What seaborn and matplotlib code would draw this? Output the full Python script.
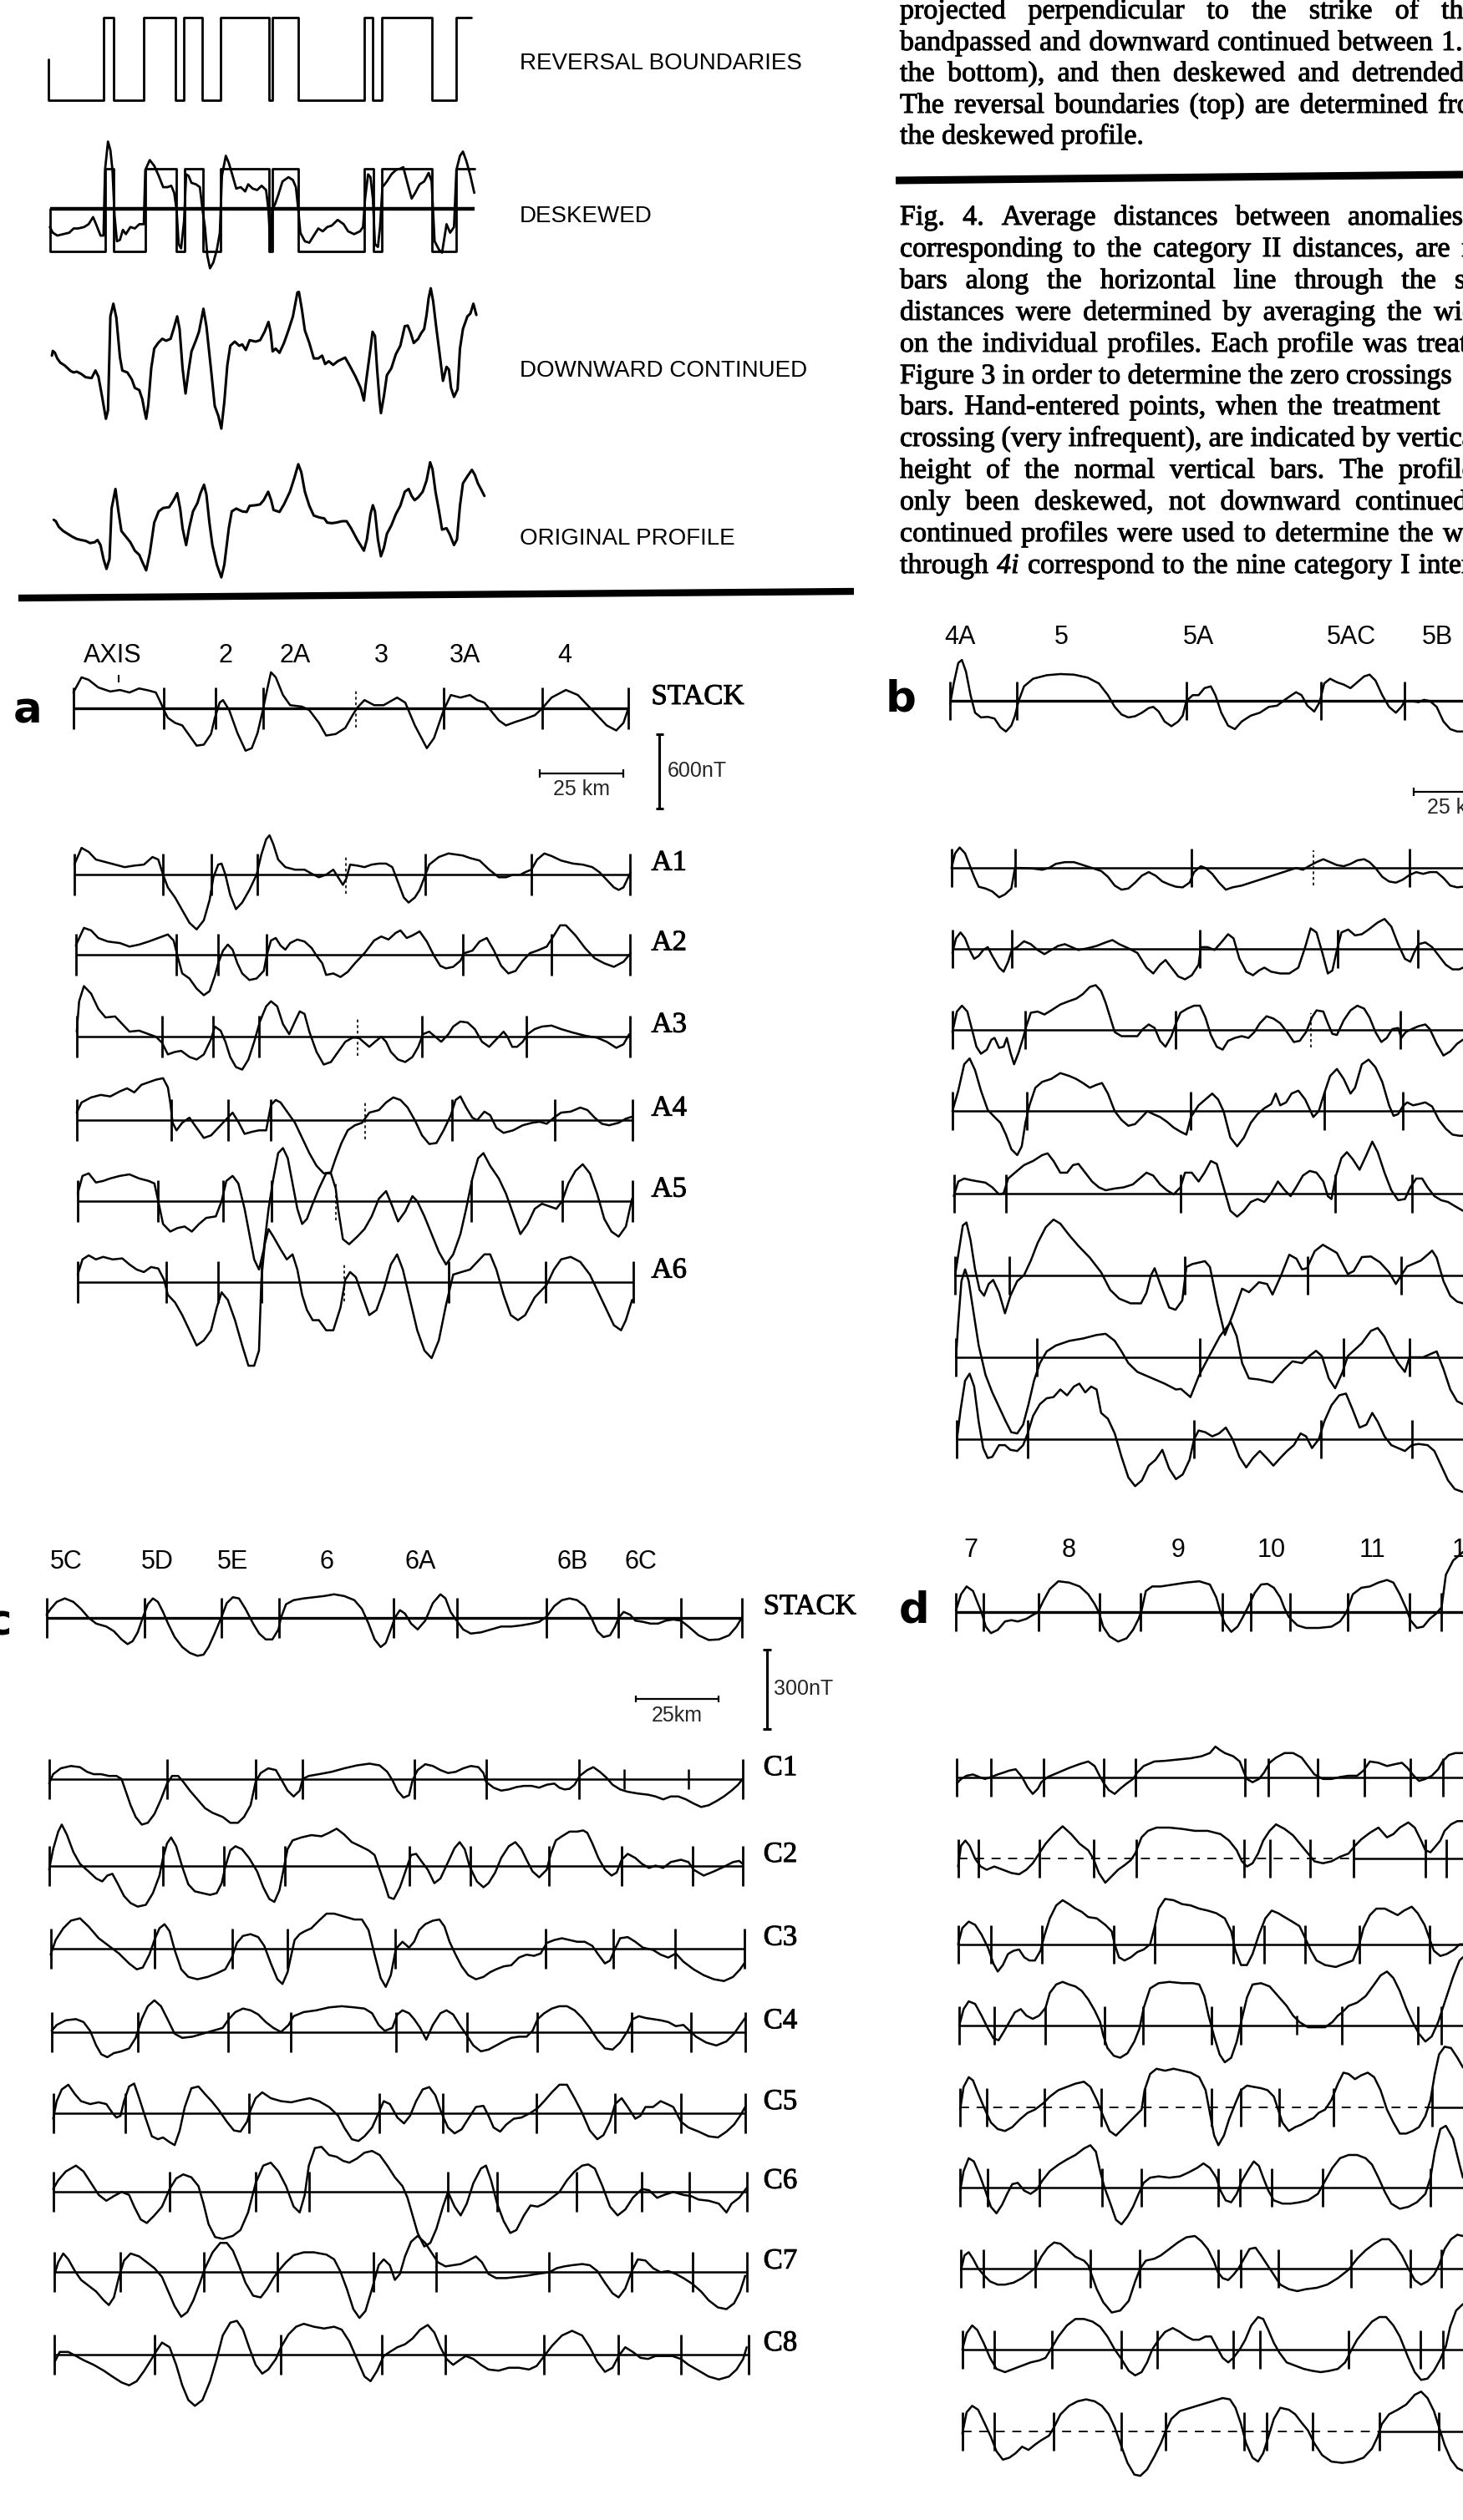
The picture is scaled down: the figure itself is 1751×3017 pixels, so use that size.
import numpy as np
import pandas as pd
import matplotlib
matplotlib.use("Agg")
import matplotlib.pyplot as plt
import seaborn as sns
from matplotlib import font_manager
from matplotlib.lines import Line2D
import matplotlib.patheffects as pe

W, H, DPI = 1751, 3017, 100
sns.set_style("white")
_names = {f.name for f in font_manager.fontManager.ttflist}
SERIF = "Liberation Serif" if "Liberation Serif" in _names else "DejaVu Serif"
SANS = "Liberation Sans" if "Liberation Sans" in _names else "DejaVu Sans"
NARROW = "Liberation Sans Narrow" if "Liberation Sans Narrow" in _names else None
plt.rcParams["font.family"] = [SANS, "DejaVu Sans"]

# ---------------- DATA: top block (distance units, amplitude units) ----------------
REV_EDGES = [5.0, 23.5, 26.8, 37.0, 47.7, 50.3, 56.5, 62.7, 79.0, 80.0, 88.7, 111.0, 113.8, 116.7, 133.7, 141.8, 146.8]
REV_POLARITY = [-1, 1, -1, 1, -1, 1, -1, 1, -1, 1, -1, 1, -1, 1, -1, 1]
DESK_EDGES = [5.5, 24.0, 27.0, 37.5, 48.0, 50.8, 56.8, 62.8, 79.0, 80.0, 88.8, 111.0, 114.0, 116.8, 133.7, 141.8, 147.8]
DESKEWED = [(5.5,-63),(6.5,-83),(8.0,-93),(10.0,-88),(12.0,-83),(13.5,-68),(15.0,-68),(17.0,-63),(18.5,-53),(20.0,-28),(21.0,-53),(22.5,-93),(23.5,-93),(24.0,137),(25.0,237),(25.8,207),(26.5,137),(27.2,-23),(28.0,-113),(29.0,-108),(30.0,-73),(31.0,-88),(32.5,-63),(34.0,-68),(35.5,-53),(37.0,-53),(37.5,137),(39.0,172),(40.5,152),(42.0,117),(43.5,77),(45.0,77),(46.2,82),(47.2,57),(48.0,-3),(48.7,-123),(49.5,-138),(50.5,-43),(51.2,122),(52.0,117),(53.0,92),(54.5,87),(55.8,77),(56.7,-3),(57.5,-63),(58.3,-163),(59.2,-208),(60.3,-188),(61.5,-143),(62.5,-83),(63.2,117),(64.5,187),(65.5,162),(66.5,127),(68.0,72),(69.5,77),(71.0,62),(72.0,87),(73.5,72),(75.0,67),(76.5,82),(78.0,67),(78.8,-3),(79.5,-143),(80.0,-3),(81.0,17),(82.0,47),(83.5,97),(85.5,112),(87.0,102),(88.0,77),(88.8,-3),(89.5,-83),(91.0,-113),(92.5,-118),(94.0,-93),(95.5,-68),(97.0,-78),(98.5,-63),(100.0,-58),(102.0,-38),(104.0,-53),(105.5,-78),(107.5,-88),(109.5,-78),(110.5,-63),(111.2,37),(112.2,122),(113.0,112),(113.8,37),(114.5,-123),(115.5,-133),(116.2,-63),(117.0,77),(118.5,97),(120.0,122),(121.5,137),(123.0,142),(124.0,147),(125.5,87),(126.8,37),(128.0,57),(129.5,87),(131.0,97),(132.5,127),(133.5,97),(134.5,-113),(136.0,-143),(137.0,-153),(138.5,-53),(139.7,-83),(141.0,-63),(141.8,137),(143.0,187),(144.0,202),(145.2,167),(146.5,117),(147.8,57)]
DOWNWARD = [(6.2,15),(6.5,32),(7.2,25),(8.0,5),(9.0,-10),(10.5,-20),(11.5,-30),(12.5,-40),(13.5,-45),(14.5,-42),(16.0,-50),(17.5,-62),(19.5,-65),(20.8,-38),(21.8,-60),(23.0,-130),(24.3,-210),(25.0,-180),(25.8,155),(26.8,200),(27.8,150),(29.0,10),(29.8,-38),(31.5,-45),(33.0,-70),(34.0,-100),(35.5,-108),(36.5,-140),(37.2,-180),(37.8,-210),(38.5,-160),(39.5,-30),(40.5,40),(41.8,60),(43.2,75),(44.5,68),(46.0,75),(47.0,110),(48.2,155),(49.0,110),(50.0,-30),(51.0,-120),(52.0,-40),(53.0,30),(54.5,70),(55.5,100),(57.0,182),(58.0,120),(59.5,-30),(60.8,-165),(62.0,-200),(63.0,-245),(64.0,-150),(65.0,-20),(66.0,50),(67.5,65),(69.0,50),(70.0,55),(71.2,35),(72.5,70),(74.5,65),(76.0,70),(77.5,100),(78.8,135),(79.5,100),(80.2,30),(81.2,40),(82.5,25),(84.0,60),(85.5,105),(87.0,155),(88.5,240),(89.0,242),(90.0,180),(91.0,105),(92.5,60),(94.0,5),(95.5,5),(96.8,15),(97.8,-15),(99.0,-5),(100.5,-18),(102.0,-5),(104.5,8),(106.0,-20),(108.0,-60),(109.7,-100),(110.8,-145),(111.5,-80),(113.0,40),(113.7,100),(114.5,85),(115.2,-30),(116.0,-140),(116.5,-190),(117.5,-130),(118.5,-55),(120.0,-30),(121.5,20),(123.0,50),(124.5,120),(125.5,122),(126.5,95),(127.5,60),(129.0,75),(130.0,95),(131.0,110),(131.8,160),(132.5,220),(133.2,255),(134.0,210),(135.0,120),(136.2,20),(137.3,-75),(138.5,-25),(139.3,-35),(140.0,-100),(141.0,-132),(142.2,-105),(143.0,40),(144.0,110),(145.5,155),(146.5,165),(147.5,200),(148.5,160)]
ORIGINAL = [(6.8,10),(7.5,5),(8.5,-15),(10.0,-30),(11.5,-40),(13.0,-50),(14.5,-58),(16.0,-62),(17.5,-65),(19.0,-73),(20.5,-70),(21.5,-62),(22.5,-80),(23.5,-130),(24.5,-165),(25.5,-130),(26.2,50),(27.5,120),(28.5,40),(29.5,-30),(31.0,-50),(32.5,-70),(34.0,-100),(35.5,-115),(36.5,-140),(37.8,-170),(39.0,-110),(40.5,0),(42.0,40),(43.5,52),(45.5,55),(47.0,80),(48.2,105),(49.2,50),(50.0,-20),(51.2,-80),(52.2,-20),(53.5,40),(55.0,70),(56.0,105),(57.2,135),(58.0,100),(59.0,0),(60.0,-80),(61.5,-150),(63.0,-195),(64.0,-150),(65.5,-20),(66.5,40),(68.0,50),(70.0,40),(71.5,38),(72.5,60),(74.5,62),(76.0,65),(77.2,80),(78.7,110),(79.7,80),(80.5,45),(82.5,38),(84.0,65),(86.0,110),(87.5,160),(88.8,208),(89.8,180),(91.0,110),(92.5,60),(94.0,25),(96.0,18),(97.5,15),(98.5,0),(100.0,-2),(101.5,0),(103.5,5),(105.0,5),(106.5,-20),(108.5,-60),(110.8,-100),(111.8,-60),(113.0,30),(113.8,62),(114.5,40),(115.5,-60),(116.5,-120),(117.5,-90),(118.5,-40),(120.0,-10),(121.5,30),(123.0,60),(124.5,110),(125.8,120),(126.8,95),(127.8,80),(129.0,90),(130.5,110),(131.8,150),(133.0,215),(133.8,190),(134.8,110),(136.0,40),(137.0,-25),(138.5,-20),(139.5,-40),(141.0,-80),(142.0,-60),(143.0,60),(144.0,140),(145.5,165),(147.0,188),(148.0,170),(149.0,140),(150.0,120),(151.2,95)]

# ---------------- DATA: panel a (600 nT scale) ----------------
A_ANOMALIES = ["AXIS", "2", "2A", "3", "3A", "4"]
A_ANOMALY_X = [23.5, 47.0, 61.5, 79.5, 97.0, 117.8]
A_ROWS = ["STACK", "A1", "A2", "A3", "A4", "A5", "A6"]
A_STACK = [(15.3,128),(17.0,248),(18.5,228),(20.5,168),(23.0,136),(25.0,148),(27.0,128),(29.0,160),(31.0,144),(32.5,128),(33.5,48),(34.2,-12),(35.0,-72),(36.5,-112),(38.0,-132),(39.5,-212),(41.0,-292),(42.5,-284),(44.0,-200),(44.8,-72),(45.8,48),(46.5,68),(47.8,-12),(49.5,-192),(51.2,-332),(52.5,-312),(53.7,-192),(54.8,-12),(55.8,168),(56.5,288),(57.5,248),(59.0,108),(60.5,28),(63.0,16),(64.5,-12),(66.5,-112),(68.0,-212),(70.0,-200),(72.0,-152),(73.5,-52),(74.5,8),(76.0,68),(78.0,28),(80.0,28),(82.8,88),(84.5,48),(86.5,-132),(89.0,-312),(90.5,-232),(92.5,-12),(94.0,108),(96.0,88),(98.0,108),(99.5,68),(101.0,48),(104.0,-92),(105.5,-132),(107.5,-104),(109.5,-80),(111.5,-52),(113.0,0),(115.0,88),(118.0,148),(120.5,108),(123.5,-12),(126.5,-132),(128.5,-172),(130.0,-112),(131.0,0)]
A1 = [(15.5,80),(17.0,212),(18.5,180),(20.0,120),(22.0,100),(24.0,80),(26.0,60),(28.0,72),(30.0,80),(31.8,140),(33.0,120),(34.0,0),(35.0,-100),(36.5,-180),(38.0,-280),(39.5,-380),(41.0,-432),(42.5,-360),(43.7,-200),(44.5,-20),(45.5,80),(46.2,88),(47.0,0),(48.0,-160),(49.2,-272),(50.5,-220),(52.0,-120),(53.5,0),(54.5,160),(55.5,280),(56.2,312),(57.0,240),(58.0,120),(59.5,60),(61.5,40),(63.5,40),(65.0,8),(66.5,-20),(68.0,0),(69.5,40),(70.5,-20),(71.5,-80),(72.2,-32),(73.0,80),(74.5,72),(76.0,60),(77.5,80),(79.0,88),(80.5,88),(81.8,60),(83.0,-60),(84.2,-180),(85.2,-220),(86.5,-180),(87.5,-120),(88.5,-20),(89.5,80),(91.5,140),(93.5,168),(95.0,160),(96.5,152),(98.0,132),(100.0,112),(102.0,40),(104.0,-20),(105.5,-20),(107.0,0),(108.5,0),(109.5,20),(110.8,40),(112.0,120),(113.5,168),(115.0,148),(117.0,112),(119.5,88),(121.5,80),(123.5,60),(125.0,20),(126.5,-40),(128.0,-100),(129.0,-120),(130.0,-100),(131.0,-20),(131.5,20)]
A2 = [(15.8,72),(17.5,212),(19.0,192),(20.5,132),(22.5,104),(25.0,92),(27.0,64),(29.0,80),(31.0,104),(33.0,132),(35.0,160),(36.2,112),(37.0,-8),(38.0,-148),(39.5,-188),(41.0,-268),(42.5,-320),(43.7,-288),(44.8,-168),(45.5,-68),(46.5,32),(47.5,80),(48.5,40),(49.5,-68),(50.5,-148),(52.0,-200),(53.5,-188),(55.0,-128),(55.6,-8),(56.5,112),(57.5,132),(58.5,72),(59.5,40),(60.5,92),(62.0,120),(63.5,104),(65.0,52),(66.0,-8),(67.2,-68),(68.0,-160),(69.5,-148),(71.0,-176),(72.5,-136),(74.0,-68),(76.0,12),(78.0,112),(79.5,144),(81.0,120),(82.5,172),(83.5,192),(84.8,132),(86.0,152),(87.5,184),(89.0,104),(90.5,-8),(91.8,-88),(93.0,-108),(94.5,-96),(96.0,-48),(96.8,12),(98.5,32),(100.0,104),(101.5,132),(103.0,32),(104.5,-88),(106.0,-148),(107.5,-128),(109.0,-48),(110.5,12),(112.0,32),(114.0,64),(115.5,152),(116.8,232),(118.0,232),(120.0,152),(122.0,52),(124.0,-28),(126.0,-68),(128.0,-96),(130.0,-56),(131.5,12)]
A3 = [(16.0,40),(16.5,280),(17.5,400),(19.0,340),(20.5,220),(22.0,152),(24.0,160),(25.5,100),(27.0,40),(29.0,48),(31.0,20),(32.5,0),(33.8,-48),(35.0,-140),(36.5,-120),(37.8,-112),(39.5,-160),(41.0,-180),(42.5,-140),(44.0,-20),(44.8,80),(46.0,48),(47.0,-40),(48.0,-160),(49.2,-240),(50.5,-260),(51.8,-180),(53.0,-40),(54.2,120),(55.5,240),(56.5,280),(57.8,240),(59.0,100),(60.3,20),(61.5,120),(62.5,200),(63.5,180),(64.5,40),(66.0,-120),(67.5,-220),(69.0,-200),(70.5,-120),(72.0,-40),(73.5,-8),(74.8,-8),(76.0,-48),(77.0,-80),(78.2,-40),(79.5,0),(80.5,-40),(81.5,-120),(83.0,-180),(84.5,-200),(86.0,-160),(87.2,-80),(88.2,20),(89.5,40),(90.5,8),(92.0,-40),(93.5,20),(94.5,80),(96.0,120),(97.5,112),(99.0,60),(100.5,-40),(102.0,-80),(103.5,-20),(105.0,40),(105.8,0),(106.8,-80),(107.8,-80),(109.0,-40),(110.0,20),(111.5,60),(113.0,80),(115.0,88),(117.0,60),(119.5,32),(122.0,8),(124.5,-8),(126.5,-40),(128.5,-88),(130.0,-60),(131.2,20)]
A4 = [(16.0,60),(17.0,140),(19.0,180),(21.0,200),(23.0,188),(25.0,228),(26.5,252),(28.0,220),(29.5,280),(31.0,300),(32.5,320),(34.0,332),(35.0,260),(35.5,140),(36.0,-20),(36.8,-80),(38.0,-20),(39.5,20),(41.0,-60),(42.5,-140),(44.0,-120),(45.5,-60),(47.0,0),(48.5,60),(49.8,-20),(51.0,-108),(52.5,-92),(54.0,-80),(55.5,-80),(56.5,120),(57.5,160),(58.5,140),(60.0,60),(61.5,-20),(63.0,-140),(64.5,-260),(66.0,-360),(67.5,-420),(69.0,-412),(70.0,-300),(71.2,-180),(72.5,-80),(74.0,-40),(75.5,-20),(77.0,60),(79.0,80),(80.5,140),(82.0,180),(83.5,160),(85.0,100),(86.5,0),(88.0,-120),(89.5,-188),(91.0,-180),(92.5,-80),(94.0,40),(95.0,160),(96.0,188),(97.2,100),(98.5,20),(99.5,0),(101.0,68),(102.2,40),(103.5,-60),(105.0,-100),(107.0,-80),(109.0,-40),(111.0,-20),(112.5,-12),(114.0,-28),(115.5,20),(117.0,60),(119.0,68),(121.0,100),(122.5,80),(124.0,20),(125.5,-28),(127.0,-40),(129.0,-20),(130.5,12),(131.8,28)]
A5 = [(16.2,60),(17.2,200),(18.5,220),(20.0,148),(21.5,160),(23.0,180),(25.0,200),(27.0,212),(29.0,180),(31.0,160),(32.2,140),(33.0,0),(34.0,-180),(35.5,-240),(37.0,-212),(38.5,-200),(40.0,-240),(41.5,-180),(43.0,-132),(45.0,-120),(46.2,0),(47.2,160),(48.5,200),(49.7,140),(51.0,-60),(52.0,-260),(53.0,-460),(54.0,-540),(55.0,-380),(56.0,-60),(57.0,180),(58.0,380),(59.0,420),(60.0,340),(61.0,140),(62.0,-60),(63.0,-180),(64.0,-140),(65.2,-20),(66.5,100),(68.0,220),(69.0,220),(70.0,100),(70.5,-60),(71.5,-300),(72.8,-340),(74.5,-280),(76.0,-220),(77.5,-120),(79.0,20),(80.5,80),(81.8,-40),(83.0,-160),(84.5,-80),(86.0,40),(87.0,0),(88.5,-120),(90.0,-260),(91.5,-400),(93.0,-500),(94.5,-420),(96.0,-260),(97.2,-60),(98.5,180),(99.7,340),(100.8,380),(102.2,280),(104.0,180),(105.5,60),(107.0,-100),(108.5,-260),(110.0,-180),(111.5,-60),(113.0,-20),(114.5,-40),(116.0,-60),(117.2,0),(118.5,140),(120.0,240),(121.5,292),(123.0,220),(124.5,60),(126.0,-140),(127.5,-240),(129.0,-280),(130.5,-200),(131.8,20)]
A6 = [(16.2,60),(17.2,180),(18.5,212),(20.0,180),(21.5,200),(23.5,180),(25.5,188),(27.0,140),(28.5,100),(30.0,80),(31.5,120),(33.0,108),(34.2,20),(35.0,-100),(36.5,-160),(38.0,-260),(39.5,-380),(41.0,-500),(42.5,-460),(44.0,-380),(45.2,-200),(46.2,-80),(47.5,-140),(49.0,-300),(50.5,-500),(51.8,-660),(53.0,-660),(54.0,-540),(54.5,20),(55.2,300),(56.0,420),(57.0,360),(58.5,260),(59.8,180),(61.0,220),(62.0,100),(63.0,-100),(64.0,-220),(65.2,-300),(66.5,-300),(68.0,-380),(69.5,-380),(71.0,-200),(72.0,20),(73.0,80),(74.2,40),(75.5,-100),(77.0,-260),(78.5,-220),(80.0,-60),(81.5,140),(82.8,220),(84.0,100),(85.5,-140),(87.0,-380),(88.5,-540),(90.0,-600),(91.5,-460),(93.0,-180),(94.5,60),(96.2,80),(98.0,100),(99.5,160),(101.0,220),(102.2,220),(103.5,100),(105.0,-100),(106.5,-260),(108.0,-300),(109.5,-260),(111.5,-120),(113.0,-60),(114.0,-20),(115.5,100),(117.0,180),(119.0,200),(121.0,160),(123.0,60),(125.0,-100),(126.5,-220),(128.0,-340),(129.5,-380),(130.5,-300),(131.8,-140)]
A_BARS = [[15.3,34.2,44.9,54.8,92.5,113.0,131.0],[15.5,34.0,44.0,53.7,88.7,110.8,131.3],[15.8,36.7,45.5,55.5,96.5,115.0,131.3],[16.0,33.8,44.5,54.0,88.0,109.7,131.3],[16.0,35.8,47.5,56.5,94.2,115.7,131.8],[16.2,33.0,46.5,56.7,98.2,117.3,131.8],[16.2,34.7,45.5,54.5,93.5,113.8,132.0]]
A_HAND_BARS = [[74.3],[72.2],[],[74.5],[76.2],[70.0],[71.8]]
A_AXIS_TICK = 24.8

# ---------------- DATA: panel b ----------------
B_ANOMALIES = ["4A", "5", "5A", "5AC", "5B"]
B_ANOMALY_X = [45.8, 68.3, 98.5, 132.2, 151.2]
B_STACK = [(43.7,-20),(44.5,120),(45.5,260),(46.3,280),(47.2,200),(48.2,40),(49.2,-80),(50.5,-112),(52.0,-108),(53.5,-120),(54.8,-180),(56.0,-208),(57.2,-168),(58.0,-100),(58.8,0),(60.0,100),(62.0,152),(65.0,176),(68.0,184),(71.0,180),(74.0,160),(76.5,120),(78.5,40),(80.0,-40),(81.5,-92),(83.0,-112),(84.5,-104),(86.0,-80),(87.5,-48),(88.5,-40),(89.7,-72),(91.0,-140),(92.5,-172),(94.0,-140),(95.0,-100),(95.8,0),(97.2,40),(98.5,40),(99.8,88),(101.2,100),(102.2,40),(103.5,-80),(105.0,-168),(106.5,-192),(108.0,-140),(110.0,-100),(112.0,-80),(114.0,-40),(115.8,-32),(117.5,8),(119.0,40),(120.0,60),(121.2,40),(122.5,-32),(124.0,-72),(125.2,-8),(126.2,120),(127.5,152),(129.0,128),(130.5,112),(132.0,88),(133.5,128),(135.0,168),(136.2,180),(137.5,140),(139.0,40),(140.5,-40),(142.0,-80),(143.2,-40),(144.0,0),(145.5,0),(147.0,-8),(148.2,8),(149.5,0),(151.0,-40),(152.5,-140),(154.0,-192),(155.5,-208),(156.8,-208)]
B1 = [(44.0,0),(44.8,100),(45.8,140),(47.0,100),(48.0,20),(49.0,-60),(50.0,-128),(51.5,-140),(53.0,-160),(54.5,-200),(55.8,-180),(57.2,-140),(58.0,0),(59.5,0),(62.0,-4),(64.0,-12),(65.5,0),(67.0,28),(69.0,40),(71.0,40),(73.0,20),(75.0,0),(77.0,-20),(78.5,-60),(80.0,-120),(81.5,-148),(83.0,-140),(84.5,-100),(86.0,-52),(87.5,-28),(89.0,-52),(90.5,-92),(92.0,-112),(93.5,-128),(95.0,-132),(96.5,-100),(97.5,-28),(99.0,12),(100.0,0),(101.5,-40),(103.0,-100),(104.5,-148),(106.0,-132),(108.0,-120),(110.0,-100),(112.0,-80),(114.0,-60),(116.0,-40),(118.0,-20),(120.0,0),(121.5,-12),(122.8,12),(124.5,40),(126.0,60),(127.5,40),(129.0,20),(130.5,12),(132.0,28),(133.5,52),(135.0,60),(136.2,40),(137.5,0),(139.0,-60),(140.5,-92),(142.0,-100),(143.5,-80),(145.0,-48),(146.5,-28),(148.0,-40),(149.5,-28),(151.0,-28),(152.5,-68),(154.0,-120),(155.5,-132),(156.8,-128)]
B2 = [(44.2,-28),(45.0,72),(46.0,112),(47.0,72),(48.0,-8),(49.0,-68),(50.0,-48),(51.0,-8),(52.0,12),(53.0,-48),(54.5,-128),(55.5,-156),(56.5,-88),(57.3,-8),(58.5,12),(60.0,52),(61.5,32),(63.0,-8),(64.5,-36),(66.0,-8),(67.5,20),(69.0,32),(70.5,12),(72.0,-8),(74.0,4),(76.0,20),(78.0,44),(79.5,60),(81.0,32),(83.0,4),(85.0,-28),(87.0,-128),(88.5,-168),(90.0,-108),(91.2,-76),(92.5,-128),(94.0,-188),(95.5,-208),(97.0,-180),(98.5,-108),(99.0,12),(100.5,12),(102.0,-8),(103.5,44),(105.0,100),(106.2,72),(107.5,-68),(109.0,-156),(110.5,-180),(111.8,-148),(113.0,-128),(114.5,-156),(116.5,-168),(118.5,-168),(120.5,-128),(122.0,12),(123.2,140),(124.5,112),(125.8,-28),(127.0,-168),(128.0,-148),(129.0,-8),(130.0,112),(131.5,132),(133.0,92),(134.5,100),(136.0,132),(138.0,180),(139.5,204),(141.0,152),(142.5,32),(144.0,-68),(145.2,-88),(146.0,-28),(147.0,32),(148.5,44),(150.0,12),(151.5,-48),(153.0,-108),(154.5,-140),(156.0,-140),(156.8,-128)]
B3 = [(44.2,-12),(45.2,128),(46.3,168),(47.5,128),(48.5,8),(49.5,-112),(50.5,-160),(51.8,-132),(52.8,-64),(53.5,-52),(54.5,-120),(55.5,-112),(56.2,-52),(57.0,-152),(57.8,-232),(58.8,-152),(59.8,-52),(60.5,28),(61.5,120),(63.0,128),(64.5,108),(66.0,136),(68.0,176),(70.0,200),(71.5,216),(73.0,248),(74.5,296),(75.8,308),(77.0,268),(78.0,188),(79.0,88),(80.0,-12),(81.5,-40),(83.5,-40),(85.0,-40),(86.2,8),(87.5,40),(88.8,16),(90.0,-72),(91.2,-112),(92.5,-40),(93.5,48),(94.5,120),(96.0,148),(97.5,168),(98.8,168),(100.0,88),(101.2,-32),(102.5,-112),(103.8,-132),(105.0,-72),(106.5,-52),(108.0,-40),(109.5,-52),(110.8,-12),(112.0,48),(113.5,96),(115.0,80),(116.5,48),(118.0,-12),(119.5,-80),(120.8,-72),(122.2,-12),(123.5,88),(124.5,136),(126.0,128),(127.0,48),(128.0,-24),(129.0,-32),(130.5,68),(132.0,136),(133.5,168),(135.0,148),(136.2,88),(137.5,-12),(138.8,-80),(140.0,-52),(141.2,8),(142.5,16),(143.2,-52),(144.2,-12),(145.5,8),(147.0,28),(148.5,40),(149.5,8),(151.0,-92),(152.5,-172),(154.0,-144),(155.5,-92),(156.8,-64)]
B4 = [(44.2,0),(45.5,140),(46.8,320),(48.0,360),(49.2,280),(50.5,140),(52.0,8),(53.5,-40),(54.8,-80),(56.0,-160),(57.2,-260),(58.5,-300),(59.5,-240),(60.3,-80),(61.2,40),(62.5,160),(64.0,200),(66.0,220),(68.0,260),(70.0,240),(71.5,220),(73.0,192),(74.5,160),(76.0,180),(77.2,192),(78.5,120),(80.0,0),(81.5,-60),(83.0,-100),(84.5,-88),(86.0,-40),(87.2,0),(88.5,-20),(90.0,-40),(91.5,-72),(93.0,-112),(94.5,-140),(95.8,-160),(96.8,-40),(98.5,40),(100.0,80),(101.5,120),(102.8,80),(104.0,0),(105.5,-180),(107.0,-240),(108.5,-180),(110.0,-80),(111.5,-20),(113.0,20),(114.5,48),(115.5,120),(116.5,40),(117.8,60),(119.0,120),(120.5,140),(122.0,80),(123.8,-40),(125.0,0),(126.2,120),(127.5,240),(129.0,288),(130.5,220),(132.0,120),(133.0,160),(134.5,320),(136.0,352),(137.5,300),(139.0,200),(140.5,40),(141.5,-32),(142.5,-20),(143.5,32),(144.5,60),(145.8,40),(147.0,48),(148.5,60),(150.0,32),(151.5,-60),(153.0,-120),(154.5,-160),(156.0,-168),(156.8,-168)]
B5 = [(44.5,-20),(45.5,80),(46.8,100),(48.5,88),(50.0,80),(51.5,72),(53.0,40),(54.5,-8),(55.5,0),(56.5,100),(58.0,140),(60.0,192),(62.0,220),(64.0,260),(65.2,272),(66.5,220),(68.0,140),(69.5,140),(70.8,192),(72.0,200),(73.5,140),(75.0,80),(76.5,40),(78.0,20),(80.0,32),(82.0,40),(84.0,60),(85.5,100),(87.0,140),(88.5,120),(90.0,60),(91.5,20),(93.0,-8),(94.5,40),(95.5,140),(97.0,140),(98.5,80),(99.8,140),(101.2,220),(102.5,200),(104.0,40),(105.5,-120),(107.0,-160),(108.5,-120),(110.0,-60),(111.5,-40),(113.0,-60),(114.5,0),(116.0,80),(117.5,20),(118.8,-20),(120.0,40),(121.5,120),(123.0,152),(124.5,140),(126.0,80),(127.0,-20),(127.8,-40),(128.8,120),(130.0,240),(131.2,280),(132.5,232),(134.0,160),(135.5,260),(136.8,352),(138.0,280),(139.5,140),(141.0,20),(142.5,-48),(144.0,-40),(145.2,40),(146.5,100),(147.8,100),(149.0,40),(150.5,-20),(152.0,-48),(153.5,-60),(155.0,-88),(156.8,-120)]
B6 = [(44.8,0),(45.8,200),(46.5,340),(47.3,360),(48.2,240),(49.2,40),(50.2,-100),(51.2,-140),(52.2,-60),(53.2,-32),(54.5,-120),(55.8,-260),(57.0,-140),(58.5,-40),(60.0,0),(61.5,100),(63.0,220),(64.8,328),(66.5,380),(68.0,352),(70.0,272),(72.0,200),(74.5,120),(77.0,20),(79.0,-100),(81.0,-160),(83.5,-192),(85.8,-192),(87.0,-120),(88.0,0),(88.8,48),(89.8,-40),(90.9,-132),(92.0,-220),(93.4,-236),(94.9,-172),(95.8,56),(97.1,76),(99.9,96),(101.0,56),(102.6,-188),(104.3,-408),(106.3,-248),(108.1,-92),(109.6,-116),(111.8,-48),(113.6,-60),(114.8,-132),(116.7,0),(118.5,140),(120.1,112),(121.3,40),(122.4,48),(124.1,164),(125.9,208),(129.0,152),(131.4,8),(132.7,28),(134.5,124),(136.5,128),(138.5,88),(140.5,20),(142.0,-60),(143.2,0),(144.5,60),(146.0,80),(147.5,100),(149.0,140),(150.0,168),(151.0,120),(152.5,-40),(154.0,-140),(155.5,-180),(156.8,-192)]
B7 = [(45.0,0),(45.5,240),(46.2,520),(47.0,600),(47.8,520),(48.8,320),(50.0,80),(51.5,-120),(53.0,-240),(54.5,-340),(56.0,-440),(57.2,-512),(58.5,-520),(59.8,-460),(61.0,-320),(62.2,-160),(63.5,-40),(65.0,40),(67.0,80),(70.0,112),(73.0,128),(76.0,152),(78.0,160),(80.0,112),(81.5,40),(83.0,-40),(85.0,-100),(88.0,-140),(91.0,-180),(93.5,-220),(94.6,-216),(96.7,-272),(98.6,-124),(100.7,0),(103.2,144),(105.6,240),(106.9,144),(108.1,-40),(109.6,-144),(111.8,-152),(114.8,-172),(117.3,-84),(119.2,-28),(121.3,-40),(122.9,8),(124.4,44),(125.7,8),(127.2,-144),(128.6,-212),(130.2,-104),(131.4,8),(134.5,96),(136.5,180),(138.0,200),(139.5,140),(141.0,40),(142.5,-40),(144.0,-100),(145.0,0),(146.5,0),(148.0,0),(149.5,20),(151.0,40),(152.5,-80),(154.0,-220),(155.5,-300),(156.8,-320)]
B8 = [(45.2,0),(46.0,200),(47.0,400),(48.0,448),(49.0,360),(50.0,120),(51.0,-60),(52.0,-128),(53.0,-120),(54.5,-40),(55.8,-40),(57.0,-72),(58.5,-80),(59.8,-40),(60.8,40),(62.0,160),(63.5,240),(65.0,280),(66.5,288),(68.0,340),(69.5,300),(71.0,360),(72.2,380),(73.5,320),(74.8,360),(76.0,340),(77.0,180),(78.5,140),(80.0,40),(81.5,-120),(83.0,-260),(84.5,-320),(86.0,-280),(87.5,-180),(89.0,-140),(90.5,-72),(92.0,-200),(93.5,-272),(95.0,-240),(96.5,-140),(97.5,0),(98.5,60),(100.0,48),(101.5,20),(103.0,40),(104.5,80),(106.0,0),(107.5,-120),(109.0,-192),(110.5,-128),(112.0,-80),(113.5,-128),(115.0,-180),(116.5,-128),(118.0,-80),(119.5,-40),(121.0,40),(122.2,20),(123.5,-60),(125.0,0),(126.2,120),(127.8,232),(129.5,300),(131.0,312),(132.5,200),(134.0,80),(135.5,100),(136.8,180),(138.0,120),(139.5,20),(141.0,-40),(142.5,-60),(144.0,-80),(145.5,-40),(147.0,-32),(149.0,-40),(150.5,-80),(152.0,-180),(153.5,-280),(155.0,-340),(156.8,-360)]
B_BARS = [[43.7,58.5,95.8,125.5,144.0],[44.0,58.0,97.0,145.0],[44.2,57.3,98.8,129.2,146.8],[44.2,60.3,93.5,143.0],[44.2,60.7,96.8,126.2,143.5],[44.5,56.0,94.5,128.7,145.5],[44.8,56.8,95.5,122.5,143.2],[45.0,62.8,98.8,130.5,145.0],[45.2,60.8,97.5,125.5,145.5]]
B_HAND_BARS = [[],[123.8],[],[123.2],[],[],[],[],[]]

# ---------------- DATA: panel c (300 nT scale) ----------------
C_ANOMALIES = ["5C", "5D", "5E", "6", "6A", "6B", "6C"]
C_ANOMALY_X = [13.0, 31.0, 46.0, 64.5, 83.0, 113.0, 126.5]
C_ROWS = ["STACK", "C1", "C2", "C3", "C4", "C5", "C6", "C7", "C8"]
C_STACK = [(9.2,10),(10.0,30),(11.2,54),(12.8,66),(14.5,54),(16.0,30),(17.5,0),(19.0,-20),(21.0,-30),(22.5,-46),(24.0,-74),(25.2,-90),(26.2,-80),(27.2,-50),(28.2,0),(29.2,46),(30.2,66),(31.2,54),(32.2,20),(33.2,-20),(34.5,-66),(36.0,-100),(37.5,-120),(39.0,-130),(40.2,-126),(41.2,-100),(42.5,-50),(43.7,0),(44.8,50),(46.0,70),(47.2,66),(48.5,30),(50.0,-20),(51.2,-54),(52.5,-74),(53.8,-74),(55.0,-40),(55.5,0),(56.5,46),(58.0,60),(60.0,66),(62.0,70),(64.0,74),(66.0,80),(68.0,74),(70.0,60),(71.5,30),(72.8,-20),(74.0,-74),(75.2,-100),(76.2,-86),(77.2,-40),(78.0,0),(79.0,26),(80.0,14),(81.2,-20),(82.5,-40),(84.0,-10),(85.5,50),(87.0,80),(88.0,66),(89.0,20),(90.2,-10),(91.5,-40),(93.0,-54),(95.0,-50),(97.0,-40),(99.0,-30),(101.0,-30),(103.0,-26),(105.0,-20),(106.5,-14),(108.0,4),(109.5,40),(111.0,60),(112.5,66),(114.0,60),(115.5,40),(116.8,0),(118.0,-46),(119.2,-66),(120.5,-60),(121.5,-30),(122.2,0),(123.2,20),(124.5,10),(125.5,-10),(127.0,-14),(128.5,-20),(130.0,-20),(131.5,-10),(133.0,-6),(134.5,-10),(136.0,-30),(138.0,-60),(140.0,-76),(142.0,-74),(144.0,-60),(145.5,-30),(146.5,0)]
C1 = [(9.7,-16),(10.5,16),(12.0,36),(14.0,44),(15.8,40),(17.2,24),(18.5,16),(20.0,16),(21.5,10),(23.0,10),(24.0,0),(24.8,-40),(25.8,-90),(26.8,-130),(28.0,-156),(29.2,-150),(30.5,-120),(31.8,-70),(33.0,-16),(34.0,10),(35.2,10),(36.2,-10),(37.5,-40),(39.0,-70),(40.5,-100),(42.0,-116),(44.0,-130),(45.5,-150),(47.0,-150),(48.2,-130),(49.5,-90),(50.5,-10),(51.5,20),(53.0,36),(54.5,30),(55.5,0),(56.8,-40),(58.0,-60),(59.2,-40),(59.8,0),(61.0,10),(63.0,16),(65.5,24),(68.0,36),(70.5,46),(73.0,52),(75.0,46),(76.5,24),(77.5,-4),(78.5,-40),(79.7,-64),(80.8,-56),(81.5,-4),(82.5,30),(84.0,50),(85.5,44),(87.0,30),(88.5,20),(90.0,24),(91.5,36),(93.0,44),(94.5,40),(95.5,20),(96.0,-10),(97.5,-30),(99.0,-40),(100.5,-36),(102.0,-28),(103.5,-24),(105.0,-24),(106.5,-30),(108.0,-20),(109.5,-16),(110.5,-30),(111.5,-36),(112.5,-34),(113.5,-20),(114.5,10),(116.0,30),(117.2,40),(118.5,24),(119.8,4),(121.0,-20),(122.5,-36),(124.0,-44),(126.0,-50),(128.0,-54),(129.5,-60),(131.0,-70),(132.5,-60),(134.0,-60),(135.5,-70),(137.0,-84),(138.5,-96),(140.0,-90),(141.5,-76),(143.0,-60),(144.5,-40),(145.8,-20),(146.7,0)]
C2 = [(9.7,-14),(10.5,56),(11.5,116),(12.2,140),(13.2,106),(14.5,46),(15.8,6),(17.5,-20),(19.0,-44),(20.2,-54),(21.2,-34),(22.2,-28),(23.2,-60),(24.5,-104),(25.8,-128),(27.2,-140),(28.8,-134),(30.2,-94),(31.5,-34),(32.2,26),(33.0,76),(33.8,96),(34.8,66),(36.0,-4),(37.2,-64),(38.5,-88),(40.0,-94),(41.5,-100),(42.8,-94),(43.8,-60),(44.5,-4),(45.5,52),(46.5,66),(47.8,56),(49.2,26),(50.8,-20),(52.0,-74),(53.2,-114),(54.2,-124),(55.2,-84),(56.0,-14),(56.8,56),(57.8,86),(59.5,96),(61.5,104),(63.5,100),(65.0,112),(66.5,126),(68.0,106),(69.5,80),(71.2,66),(72.8,52),(74.0,36),(75.0,-14),(76.0,-64),(76.8,-108),(77.8,-114),(79.0,-74),(80.2,-14),(81.2,36),(82.2,40),(83.2,16),(84.5,-14),(85.8,-60),(87.0,-44),(88.5,12),(89.8,60),(90.8,80),(91.8,56),(92.8,-4),(94.2,-54),(95.5,-74),(96.5,-60),(97.8,-24),(99.0,26),(100.5,66),(101.8,80),(103.0,56),(104.0,20),(105.2,-20),(106.5,-40),(108.0,-14),(108.8,40),(109.8,86),(111.0,100),(112.5,116),(114.0,116),(115.2,120),(116.0,112),(117.0,76),(118.2,26),(119.5,-14),(120.8,-34),(121.8,-24),(122.8,20),(124.0,40),(125.5,26),(126.8,6),(128.2,-8),(129.5,0),(131.0,-8),(132.5,12),(134.5,20),(136.0,12),(137.0,-14),(139.0,-34),(141.0,-20),(143.0,-4),(144.8,12),(146.0,16),(146.7,6)]
C3 = [(10.0,-20),(11.0,30),(12.5,70),(14.0,96),(15.8,104),(17.5,76),(19.5,36),(21.5,10),(23.5,-16),(25.5,-50),(27.0,-70),(28.2,-64),(29.5,-20),(30.5,30),(31.5,70),(32.5,84),(33.5,60),(34.5,-4),(35.8,-70),(37.2,-96),(39.0,-104),(41.0,-96),(42.8,-84),(44.5,-70),(45.8,-30),(46.8,20),(48.0,44),(49.5,50),(51.0,40),(52.2,10),(53.5,-50),(54.8,-104),(55.8,-120),(56.8,-80),(57.5,-24),(58.2,30),(59.2,50),(60.2,60),(61.5,70),(63.0,96),(64.5,120),(66.0,120),(68.0,110),(70.0,100),(71.5,100),(72.8,64),(74.0,-20),(75.2,-100),(76.2,-130),(77.2,-90),(78.2,0),(79.5,24),(80.8,4),(81.8,24),(82.8,64),(84.0,84),(85.5,96),(86.8,100),(87.8,76),(88.8,24),(90.0,-20),(91.2,-60),(92.5,-90),(94.0,-104),(95.5,-96),(96.8,-80),(98.0,-70),(99.5,-60),(101.0,-56),(102.5,-30),(104.0,-20),(105.5,-24),(106.8,-16),(108.0,20),(109.5,30),(111.0,36),(112.5,30),(114.0,24),(115.5,24),(117.0,10),(118.2,-20),(119.5,-50),(120.5,-40),(121.5,0),(122.5,36),(124.0,40),(125.5,24),(127.0,4),(129.0,-4),(130.5,-20),(132.0,-30),(133.5,-16),(135.0,-44),(137.0,-70),(139.0,-90),(141.0,-104),(143.0,-110),(144.8,-96),(146.2,-70),(147.0,-50)]
C4 = [(10.2,4),(11.2,24),(13.0,40),(15.0,44),(16.5,34),(17.8,4),(19.0,-46),(20.0,-76),(21.2,-86),(22.5,-72),(24.0,-66),(25.5,-56),(26.8,-20),(28.0,44),(29.2,88),(30.5,108),(31.8,88),(33.2,40),(34.5,-6),(36.0,-20),(38.0,-16),(40.0,-6),(42.0,4),(44.0,14),(45.2,44),(46.5,68),(48.0,80),(49.5,74),(51.0,60),(52.5,34),(54.0,14),(55.5,0),(57.0,24),(58.0,54),(60.0,68),(62.5,74),(65.0,84),(67.5,88),(70.0,84),(72.0,80),(73.5,64),(74.8,24),(76.0,4),(77.5,14),(78.5,60),(79.5,74),(80.8,64),(81.8,44),(83.0,14),(84.2,-26),(85.5,24),(87.0,64),(88.2,74),(89.5,60),(90.8,24),(92.0,-6),(93.5,-46),(95.0,-66),(96.5,-60),(98.0,-46),(99.5,-32),(101.0,-20),(102.5,-16),(104.0,-16),(105.2,4),(106.2,44),(107.5,64),(109.0,80),(110.5,88),(112.0,88),(113.5,74),(115.0,48),(116.5,14),(118.0,-26),(119.5,-56),(121.0,-60),(122.5,-36),(124.0,4),(125.0,44),(126.2,54),(127.5,48),(129.0,44),(130.5,40),(132.0,34),(133.5,20),(135.0,24),(136.0,8),(137.5,-16),(139.5,-36),(141.5,-46),(143.5,-32),(145.0,-6),(146.2,24),(147.2,48)]
C5 = [(10.5,-20),(11.2,40),(12.2,80),(13.5,96),(14.8,64),(16.0,40),(17.8,30),(19.5,36),(21.0,30),(22.2,0),(23.0,-16),(23.8,-10),(24.5,40),(25.5,90),(26.5,100),(27.5,50),(28.8,-20),(30.0,-80),(31.2,-90),(32.2,-84),(33.5,-100),(34.5,-110),(35.5,-60),(36.5,20),(37.8,84),(39.2,90),(40.5,64),(41.8,40),(43.2,10),(44.8,-30),(46.2,-60),(47.5,-64),(48.8,-30),(49.5,10),(50.5,50),(51.8,70),(53.5,50),(55.5,40),(57.5,36),(59.5,44),(61.2,50),(63.0,40),(65.0,20),(66.8,-10),(68.0,-50),(69.5,-90),(70.8,-96),(72.0,-80),(73.5,-50),(74.8,0),(75.8,40),(77.0,30),(78.5,-16),(79.8,-36),(81.0,-10),(82.2,40),(83.5,80),(84.8,88),(86.0,60),(87.2,0),(88.5,-50),(89.8,-70),(91.2,-56),(92.5,-20),(94.0,20),(95.5,24),(96.5,-10),(97.5,-50),(98.8,-64),(100.0,-40),(101.5,-20),(103.0,-16),(104.8,0),(106.2,16),(107.5,40),(109.0,70),(110.5,96),(112.0,96),(113.5,50),(115.0,0),(116.5,-60),(118.0,-90),(119.2,-76),(120.5,-30),(121.5,30),(122.8,50),(124.0,20),(125.5,-20),(126.5,-10),(127.5,20),(129.0,20),(130.5,40),(131.8,30),(133.0,20),(134.5,-30),(136.0,-50),(138.0,-64),(140.0,-80),(141.8,-84),(143.5,-64),(145.0,-40),(146.2,-10),(147.2,20)]
C6 = [(10.5,10),(11.5,40),(13.0,70),(15.0,90),(16.5,70),(18.0,30),(19.5,-10),(21.0,-30),(22.5,-14),(24.0,0),(25.5,-10),(26.5,-50),(27.8,-94),(29.0,-106),(30.5,-80),(32.0,-50),(33.5,10),(34.8,46),(36.2,60),(37.8,50),(39.2,20),(40.2,-40),(41.2,-110),(42.5,-154),(44.0,-160),(46.0,-150),(47.5,-130),(49.0,-70),(50.5,30),(52.0,90),(53.5,100),(55.0,70),(56.5,20),(58.0,-50),(59.2,-70),(60.2,-10),(61.0,90),(62.2,150),(63.5,154),(65.0,126),(66.5,120),(67.8,106),(69.0,100),(70.5,114),(72.0,134),(73.5,140),(75.0,126),(76.5,90),(78.0,50),(79.5,20),(80.5,-20),(81.5,-80),(82.5,-140),(83.8,-186),(85.0,-174),(86.2,-126),(87.5,-50),(88.5,0),(89.8,-50),(91.0,-80),(92.2,-40),(93.5,30),(95.0,80),(96.0,90),(97.0,40),(98.2,-40),(99.5,-100),(100.8,-140),(102.0,-130),(103.5,-80),(104.8,-46),(106.2,-50),(107.5,-40),(109.0,-20),(110.5,0),(112.0,40),(113.5,70),(115.0,90),(116.2,94),(117.5,80),(119.0,20),(120.5,-50),(122.0,-80),(123.5,-60),(125.0,-20),(126.8,10),(128.2,6),(129.8,-20),(131.2,-10),(133.0,0),(135.0,-10),(136.5,-14),(138.0,-26),(140.0,-30),(142.0,-40),(143.5,-70),(144.5,-40),(146.0,-20),(147.5,14)]
C7 = [(10.8,-6),(11.5,34),(12.5,64),(13.5,44),(14.8,4),(16.0,-26),(17.5,-46),(19.0,-66),(20.5,-96),(21.5,-112),(22.5,-86),(23.5,-16),(24.5,40),(25.8,64),(27.5,54),(29.0,34),(30.5,14),(32.0,-16),(33.0,-56),(34.5,-116),(35.8,-152),(37.0,-136),(38.2,-96),(39.5,-36),(40.5,14),(42.0,68),(43.5,100),(44.8,100),(46.0,74),(47.2,24),(48.5,-36),(50.0,-80),(51.5,-86),(52.8,-56),(54.0,-20),(55.0,4),(56.5,34),(58.0,58),(60.0,68),(62.0,68),(64.5,60),(66.0,44),(67.2,4),(68.5,-56),(69.8,-126),(71.0,-156),(72.2,-132),(73.5,-56),(74.8,24),(75.8,44),(77.0,24),(78.0,-26),(79.0,-6),(80.0,54),(81.2,104),(82.5,124),(84.0,100),(85.2,68),(86.5,34),(88.0,20),(89.5,24),(91.0,28),(92.5,40),(94.0,54),(95.2,34),(96.5,-6),(98.0,-20),(100.0,-20),(102.0,-16),(104.0,-12),(106.0,-6),(108.5,0),(110.0,14),(111.5,20),(113.0,24),(115.0,28),(116.5,24),(118.0,4),(119.5,-36),(121.0,-72),(122.2,-86),(123.5,-56),(124.8,4),(126.0,44),(127.5,40),(129.0,14),(130.5,0),(132.0,4),(133.5,-6),(135.0,-20),(136.8,-40),(138.5,-66),(140.0,-96),(141.8,-120),(143.5,-126),(145.0,-106),(146.2,-66),(147.2,-12)]
C8 = [(10.8,-26),(11.8,8),(13.5,8),(15.0,-6),(16.5,-20),(18.5,-36),(20.5,-56),(22.2,-76),(24.0,-96),(25.5,-106),(27.0,-92),(28.5,-56),(29.8,-20),(31.0,14),(32.0,40),(33.5,24),(34.8,-36),(36.0,-106),(37.2,-156),(38.5,-176),(40.0,-156),(41.5,-92),(42.8,-16),(44.0,64),(45.5,108),(46.8,114),(48.0,84),(49.2,24),(50.5,-36),(51.8,-66),(53.0,-52),(54.5,-16),(55.5,24),(57.0,68),(58.5,94),(60.0,104),(62.0,94),(64.0,88),(66.0,94),(67.5,84),(69.0,44),(70.5,-16),(72.0,-76),(73.2,-92),(74.5,-56),(75.8,-6),(77.0,8),(78.5,24),(80.0,34),(81.5,54),(83.0,84),(84.5,100),(85.8,74),(87.0,24),(88.2,-16),(89.5,-36),(90.8,-20),(92.0,-6),(93.5,-16),(95.0,-36),(96.5,-52),(98.5,-56),(100.5,-46),(102.5,-46),(104.5,-52),(106.0,-40),(107.5,-6),(109.0,28),(111.0,64),(113.0,80),(115.0,64),(116.5,24),(118.0,-26),(119.5,-60),(121.0,-46),(122.2,-6),(123.5,24),(125.0,8),(126.5,-12),(128.0,-16),(129.5,-6),(131.0,-6),(132.8,-6),(134.5,-16),(136.0,-36),(138.0,-56),(140.0,-76),(142.0,-86),(144.0,-76),(145.5,-52),(146.8,-16),(147.5,24)]
C_BARS = [[9.2,28.5,43.7,55.2,77.8,90.3,108.0,122.2,134.5,146.5],[9.7,33.0,50.5,59.8,81.8,96.0,114.3,146.7],[9.7,32.2,44.3,56.2,80.8,93.0,108.5,122.8,136.8,146.7],[10.0,30.5,45.8,56.8,78.0,107.8,121.2,133.3,147.0],[10.2,27.2,45.0,57.5,78.2,92.2,106.2,124.8,136.5,147.2],[10.5,24.8,49.2,75.0,87.5,106.0,121.5,134.5,147.2],[10.5,33.5,50.5,61.0,88.5,98.2,113.8,126.8,136.2,147.5],[10.8,23.7,40.2,54.8,73.8,86.2,108.5,124.8,136.8,147.5],[10.8,30.5,55.5,75.5,88.0,107.5,122.2,134.5,147.8]]
C_SHORT_BARS = [[],[123.3,136.0],[],[],[],[],[],[],[]]

# ---------------- DATA: panel d (300 nT scale) ----------------
D_ANOMALIES = ["7", "8", "9", "10", "11", "12"]
D_ANOMALY_X = [41.5, 64.5, 90.0, 112.0, 135.5, 157.5]
D_STACK = [(38.0,6),(39.2,56),(40.5,80),(42.0,66),(43.2,26),(44.0,0),(45.0,-44),(46.2,-64),(47.8,-54),(49.5,-28),(51.0,-24),(52.5,-28),(54.5,-20),(56.0,-8),(57.2,0),(58.5,36),(60.0,72),(62.0,96),(64.5,92),(67.0,80),(69.0,56),(70.5,26),(71.5,0),(72.5,-44),(74.0,-74),(76.0,-90),(78.0,-80),(79.5,-54),(80.8,-20),(81.5,6),(82.5,66),(84.0,80),(86.0,80),(89.0,86),(92.0,92),(95.0,96),(97.5,86),(99.0,46),(100.0,0),(101.0,-34),(102.5,-60),(104.0,-44),(105.5,-8),(106.8,26),(108.0,60),(109.5,86),(111.0,88),(112.5,76),(114.0,46),(115.0,12),(116.0,-14),(118.0,-40),(120.0,-48),(123.0,-48),(126.0,-44),(128.0,-28),(129.5,0),(131.0,56),(133.0,76),(135.0,80),(137.0,92),(139.0,100),(140.5,92),(142.0,56),(143.5,12),(144.5,-24),(146.0,-48),(147.5,-44),(149.0,-20),(150.5,-4),(151.8,16),(152.8,116),(154.5,160),(156.8,186)]
D1 = [(38.2,-20),(39.2,-6),(40.5,4),(42.0,8),(43.5,0),(44.8,-6),(46.2,0),(47.8,8),(49.2,14),(50.5,20),(52.0,24),(53.5,0),(54.8,-32),(56.0,-52),(57.2,-36),(58.0,-16),(59.5,0),(62.0,14),(64.5,28),(67.0,40),(69.0,48),(70.5,34),(71.5,8),(72.5,-16),(73.8,-40),(75.2,-52),(76.5,-36),(78.0,-20),(79.5,-6),(80.5,14),(82.0,34),(84.5,48),(87.0,50),(90.0,54),(93.0,58),(95.5,64),(97.5,74),(98.8,94),(99.8,84),(101.0,74),(103.0,64),(104.5,48),(105.5,14),(106.2,-6),(107.5,-16),(109.0,-6),(110.2,14),(111.5,44),(113.0,60),(115.0,74),(117.0,74),(119.0,60),(120.5,34),(122.0,8),(124.0,-6),(126.0,-6),(128.0,0),(130.0,4),(132.0,4),(133.5,20),(135.0,48),(137.0,44),(139.0,34),(141.0,40),(142.5,44),(143.8,28),(145.0,8),(146.5,-12),(148.0,-6),(149.5,4),(151.0,24),(152.0,48),(153.5,68),(155.0,74),(156.8,74)]
D2 = [(38.5,-24),(39.2,40),(40.2,56),(41.2,40),(42.5,0),(43.8,-24),(45.2,-34),(47.0,-24),(49.0,-34),(51.0,-44),(52.8,-48),(54.5,-34),(56.0,-14),(57.5,16),(59.0,46),(61.0,76),(63.0,100),(65.0,76),(67.0,46),(69.0,26),(70.2,0),(71.5,-44),(73.0,-74),(74.5,-54),(76.0,-34),(77.5,-20),(79.0,-4),(80.0,16),(81.5,66),(83.0,86),(85.0,96),(88.0,96),(91.0,92),(94.0,86),(97.0,86),(100.0,76),(102.0,56),(103.8,26),(105.0,-8),(106.2,-24),(107.5,-14),(108.8,16),(110.0,56),(111.5,86),(113.0,106),(115.0,92),(117.0,72),(119.0,40),(120.5,16),(122.0,-8),(124.0,-14),(126.0,-8),(128.0,6),(130.0,16),(131.5,40),(133.0,60),(135.0,80),(137.0,96),(139.0,66),(140.5,76),(142.0,96),(144.0,112),(145.5,96),(147.0,56),(148.0,26),(149.2,20),(150.5,40),(151.5,56),(152.5,86),(154.0,106),(155.5,116),(156.8,116)]
D3 = [(38.5,0),(39.5,50),(41.0,70),(42.5,60),(44.0,30),(45.5,-10),(46.8,-60),(47.8,-84),(49.0,-64),(50.2,-30),(51.5,-20),(52.8,-16),(54.0,-40),(55.2,-50),(56.5,-50),(57.8,-20),(58.8,30),(60.0,80),(61.5,120),(63.0,136),(64.5,124),(66.0,110),(67.5,100),(69.0,84),(71.0,80),(73.0,60),(74.5,40),(75.2,0),(76.2,-40),(77.5,-50),(79.0,-40),(80.5,-24),(82.0,-16),(83.5,0),(84.5,50),(85.5,110),(87.0,140),(89.0,136),(91.0,124),(93.0,120),(95.0,110),(97.0,104),(99.0,96),(101.0,80),(102.5,40),(103.5,-20),(104.8,-64),(106.2,-64),(107.5,-30),(109.0,30),(110.5,80),(112.0,104),(113.5,96),(115.0,84),(116.8,70),(118.5,56),(119.8,20),(121.2,-20),(122.5,-50),(124.5,-64),(127.0,-70),(129.0,-60),(131.0,-50),(132.5,0),(133.5,50),(135.0,90),(136.5,110),(138.5,110),(140.0,100),(141.5,90),(143.0,104),(144.8,116),(146.2,96),(147.8,60),(149.0,16),(150.0,-20),(151.5,-36),(153.0,-30),(154.8,-16),(156.0,0),(156.8,0)]
D4 = [(38.8,0),(39.8,50),(41.0,74),(42.5,66),(44.0,30),(45.5,-10),(46.8,-40),(48.0,-46),(49.2,-20),(50.5,10),(51.8,40),(53.2,50),(54.5,30),(56.0,20),(57.5,30),(59.0,54),(60.0,100),(61.5,126),(63.0,134),(64.5,126),(66.0,120),(67.5,106),(69.0,80),(70.5,46),(71.8,10),(72.5,-30),(73.5,-70),(75.0,-94),(76.5,-100),(78.2,-86),(79.8,-50),(81.0,-10),(82.0,54),(83.5,114),(85.5,130),(88.0,134),(91.0,130),(93.5,130),(95.0,126),(96.2,90),(97.2,30),(98.5,-34),(99.8,-90),(101.0,-114),(102.5,-100),(103.8,-50),(105.0,20),(106.2,86),(107.5,126),(109.5,130),(111.5,120),(113.5,90),(115.5,60),(117.0,30),(118.5,10),(120.5,-6),(122.5,-6),(124.5,-6),(126.2,10),(127.5,30),(128.5,40),(130.0,60),(132.0,70),(134.0,90),(136.0,126),(137.5,154),(139.0,166),(140.5,146),(142.0,106),(143.5,54),(145.0,10),(146.5,-26),(148.0,-50),(149.5,-34),(151.0,10),(152.0,50),(153.0,90),(154.5,150),(156.0,200),(156.8,210)]
D5 = [(39.0,-6),(39.8,64),(41.0,94),(42.0,84),(43.2,44),(44.8,-6),(46.2,-46),(47.8,-66),(49.5,-72),(51.2,-60),(53.0,-36),(54.8,-16),(56.5,-6),(58.5,14),(60.0,34),(62.0,54),(64.0,64),(66.0,74),(68.0,80),(69.5,64),(71.0,24),(72.5,-26),(74.0,-72),(75.5,-86),(77.0,-66),(78.5,-46),(80.0,-26),(81.5,-6),(82.2,54),(83.5,104),(85.0,120),(87.0,114),(89.0,120),(91.0,114),(93.0,108),(95.0,94),(96.5,54),(97.5,-16),(98.5,-86),(99.5,-116),(100.8,-86),(102.0,-36),(103.5,14),(104.8,54),(106.2,68),(107.8,64),(109.5,60),(111.0,54),(112.5,34),(113.5,-6),(114.5,-46),(116.0,-72),(117.5,-60),(119.0,-52),(120.5,-40),(121.8,-32),(123.0,-16),(124.5,-6),(126.0,24),(127.5,74),(128.8,108),(130.0,104),(131.5,88),(133.0,100),(134.5,108),(136.0,94),(137.5,54),(139.0,-6),(140.5,-46),(142.0,-80),(143.5,-80),(145.0,-72),(146.5,-60),(148.0,-26),(149.2,24),(150.2,104),(151.2,164),(152.5,188),(154.0,184),(155.5,154),(156.8,124)]
D6 = [(39.0,-10),(39.8,50),(41.0,90),(42.2,80),(43.5,40),(45.0,-14),(46.2,-60),(47.5,-80),(48.8,-54),(50.0,-20),(51.2,10),(52.5,14),(54.0,-10),(55.5,-20),(57.0,-6),(58.2,20),(60.0,50),(62.0,70),(64.0,86),(66.0,100),(68.0,120),(69.5,130),(70.8,110),(71.8,50),(72.8,0),(74.2,-50),(75.5,-100),(76.8,-114),(78.2,-90),(79.5,-60),(80.8,-20),(82.0,14),(83.5,30),(85.5,34),(88.0,30),(90.5,34),(92.5,46),(94.5,60),(96.0,74),(97.5,60),(99.0,30),(100.0,-10),(101.2,-40),(102.5,-46),(103.8,-20),(105.0,20),(106.5,54),(107.8,80),(109.0,66),(110.0,30),(111.2,-10),(112.5,-40),(114.5,-50),(116.5,-50),(118.5,-46),(120.5,-40),(122.8,-20),(124.5,20),(126.2,60),(128.0,90),(130.0,100),(132.0,100),(134.0,90),(135.5,70),(137.0,30),(138.5,-14),(140.0,-50),(142.0,-66),(144.0,-60),(146.0,-46),(148.0,-20),(149.2,30),(150.2,110),(151.5,180),(152.8,190),(154.5,150),(156.0,70),(156.8,30)]
D7 = [(39.2,-4),(40.0,40),(41.0,50),(42.0,30),(43.2,0),(44.5,-20),(46.0,-40),(47.8,-50),(49.5,-50),(51.5,-44),(53.5,-30),(55.5,-10),(56.8,4),(58.0,36),(59.5,64),(61.0,80),(62.5,76),(64.0,60),(66.0,36),(68.0,24),(69.0,10),(69.8,-20),(71.0,-64),(72.5,-104),(74.5,-136),(76.5,-130),(78.5,-100),(80.0,-40),(81.2,0),(82.5,24),(84.5,30),(86.0,40),(88.0,60),(90.0,80),(92.0,96),(94.0,100),(95.5,84),(97.0,60),(98.5,20),(99.3,-10),(100.5,-30),(101.8,-36),(103.0,-20),(104.2,0),(105.5,30),(106.8,60),(108.2,64),(109.5,40),(111.0,10),(112.5,-20),(114.0,-50),(116.0,-64),(118.0,-70),(120.0,-64),(122.5,-60),(125.0,-50),(127.5,-30),(130.0,-4),(132.0,30),(134.0,56),(136.0,76),(137.8,90),(139.5,90),(141.0,70),(142.5,40),(144.0,0),(145.5,-36),(147.0,-50),(148.5,-40),(150.0,-20),(151.2,10),(152.5,60),(154.0,90),(155.5,104),(156.8,100)]
D8 = [(39.5,0),(40.5,50),(41.8,74),(43.0,60),(44.5,20),(46.0,-26),(47.5,-60),(49.5,-70),(51.5,-60),(53.5,-50),(55.5,-40),(57.5,-34),(59.0,-26),(60.5,6),(62.0,40),(64.0,74),(66.0,94),(68.0,94),(70.0,86),(71.8,70),(73.5,40),(75.2,0),(76.8,-30),(78.5,-66),(80.0,-80),(81.5,-70),(82.8,-40),(84.0,0),(85.5,30),(87.0,54),(88.8,66),(90.5,54),(92.0,40),(93.5,30),(95.0,30),(96.5,40),(97.8,40),(99.0,10),(100.5,-26),(101.8,-40),(103.0,-26),(104.5,0),(105.8,30),(107.2,74),(108.8,100),(110.0,94),(111.2,60),(112.5,20),(113.8,-10),(115.5,-40),(117.5,-50),(119.5,-60),(121.5,-66),(123.5,-70),(125.5,-66),(127.5,-60),(129.2,-40),(130.5,-6),(132.0,30),(133.8,60),(135.5,86),(137.2,100),(138.8,100),(140.5,74),(142.0,40),(144.0,-26),(145.5,-70),(147.0,-94),(148.5,-90),(150.0,-66),(151.5,-30),(152.8,10),(153.8,70),(155.2,120),(156.8,140)]
D9 = [(39.5,-6),(40.5,60),(41.8,80),(43.2,68),(44.8,24),(46.2,-16),(47.5,-60),(49.0,-86),(50.5,-80),(52.0,-66),(53.5,-46),(55.0,-56),(56.5,-40),(58.0,-26),(59.8,-12),(61.0,14),(62.5,54),(64.5,80),(66.5,94),(68.5,100),(70.5,94),(72.2,80),(73.8,54),(75.2,14),(76.8,-46),(78.2,-96),(79.8,-132),(81.2,-136),(82.8,-116),(84.5,-76),(86.0,-36),(87.2,4),(88.5,40),(90.5,64),(93.0,74),(95.5,84),(98.0,94),(100.5,104),(102.2,100),(103.5,74),(104.8,24),(106.0,-36),(107.5,-80),(108.8,-92),(110.0,-66),(111.2,-16),(112.5,40),(114.0,74),(116.0,68),(117.5,54),(119.0,28),(120.5,4),(122.0,-36),(123.8,-72),(126.0,-92),(128.5,-96),(131.0,-92),(133.5,-80),(135.5,-52),(136.8,-16),(137.8,24),(139.5,54),(141.5,68),(143.5,84),(145.5,114),(147.0,124),(148.5,104),(150.0,64),(151.2,14),(152.5,-40),(154.0,-86),(155.5,-112),(156.8,-120)]
D_BARS = [[38.0,44.5,57.3,71.7,81.2,100.5,107.0,116.2,129.8,144.2,151.8],[38.2,46.2,58.5,72.7,80.0,105.8,111.2,122.8,133.8,144.5,152.2],[38.5,43.2,57.5,70.2,80.3,105.5,111.5,121.0,131.2,148.0,152.8],[38.5,46.2,58.2,75.0,84.5,103.0,110.2,119.8,132.5,149.0],[38.8,47.0,59.0,72.8,81.8,97.8,104.8,128.5,146.2,151.8],[39.0,45.2,58.8,72.0,82.2,97.8,104.8,113.8,126.5,149.5],[39.0,45.5,57.5,72.2,81.5,99.5,104.5,112.0,124.0,149.2],[39.2,44.5,56.5,69.5,81.0,99.5,104.8,113.5,130.5,144.5,151.8],[39.5,47.0,60.5,76.8,85.2,103.0,109.2,130.0,146.8,152.2],[39.5,47.0,60.8,76.8,87.2,105.5,110.8,121.5,137.2,151.2]]
D_SHORT_BARS = [[],[],[],[],[117.8],[],[],[],[],[]]
D_DASHED_UNTIL = [None, None, 131.2, None, None, 149.5, None, None, None, 137.2]

# ---------------- LAYOUT (page pixels and the mapping of each panel) ----------------
PANEL_A = dict(left=0, top=740, w=900, h=960, px0=0, fx=0.574, py0=720, fy=0.606, k=4)
PANEL_B = dict(left=900, top=740, w=851, h=1060, px0=900, fx=0.5427, py0=720, fy=0.7015, k=4)
PANEL_C = dict(left=0, top=1800, w=950, h=1217, px0=0, fx=0.6059, py0=1800, fy=0.7015, k=2)
PANEL_D = dict(left=950, top=1800, w=801, h=1217, px0=950, fx=0.5108, py0=1800, fy=0.7761, k=2)
A_BASE = [212, 540, 698, 860, 1025, 1185, 1345]
B_BASE = [170, 455, 593, 732, 870, 1010, 1150, 1290, 1430]
C_BASE = [195, 470, 618, 760, 902, 1040, 1175, 1312, 1452]
D_BASE = [168, 422, 548, 680, 805, 932, 1055, 1180, 1305, 1432]

LW = 1.8
fig = plt.figure(figsize=(W / DPI, H / DPI), dpi=DPI)
fig.patch.set_facecolor("white")
STROKE = [pe.withStroke(linewidth=0.7, foreground="black")]
ALL_AXES = []


def make_axes(left, top, w, h, px0, fx, py0, fy, k):
    ax = fig.add_axes([left / W, 1 - (top + h) / H, w / W, h / H])
    ax.set_xlim((left - px0) / (10 * fx), (left + w - px0) / (10 * fx))
    ax.set_ylim(-k * (top + h - py0) / fy, -k * (top - py0) / fy)
    ax.set_axis_off()
    ax.patch.set_alpha(0)
    ALL_AXES.append(ax)
    return ax


def line(ax, xs, ys, lw=LW, **kw):
    df = pd.DataFrame({"x": xs, "y": ys})
    sns.lineplot(data=df, x="x", y="y", ax=ax, color="black", linewidth=lw,
                 sort=False, estimator=None, legend=False, **kw)


def profile(ax, pts, off, lw=LW):
    xs = [p[0] for p in pts]
    ys = [p[1] + off for p in pts]
    line(ax, xs, ys, lw=lw)


def steps(edges, pol, hi, lo):
    xs, ys = [edges[0]], [0.0]
    for i, p in enumerate(pol):
        lev = hi if p > 0 else lo
        xs += [edges[i], edges[i + 1]]
        ys += [lev, lev]
    return xs, ys


def ftext(x, y, s, **kw):
    return fig.text(x / W, 1 - y / H, s, **kw)


# ---------------- top-left block ----------------
ax0 = make_axes(40, 0, 600, 330, 40, 0.357, -1, 0.341, 1)
xs, ys = steps(REV_EDGES, REV_POLARITY, 145, -145)
line(ax0, xs, [v - 210 for v in ys], lw=2.0)
xs, ys = steps(DESK_EDGES, REV_POLARITY, 142, -148)
line(ax0, xs, [v - 737 for v in ys], lw=2.0)
ax0.hlines(-737, DESK_EDGES[0], DESK_EDGES[-1], color="black", lw=3.2)
profile(ax0, DESKEWED, -737, lw=2.0)

ax1 = make_axes(40, 330, 600, 390, 40, 0.357, 330, 0.336, 1)
profile(ax1, DOWNWARD, -300, lw=2.2)
profile(ax1, ORIGINAL, -880, lw=2.2)

if NARROW:
    tfont = dict(family=[NARROW, SANS], fontsize=24.5)
else:
    tfont = dict(family=[SANS], fontsize=20)
for y, s in [(76, "REVERSAL BOUNDARIES"), (259, "DESKEWED"), (444, "DOWNWARD CONTINUED"), (645, "ORIGINAL PROFILE")]:
    ftext(622, y, s, ha="left", va="center", color="black", **tfont)

fig.add_artist(Line2D([22 / W, 1022 / W], [1 - 716 / H, 1 - 708 / H], color="black", lw=6.0,
                      transform=fig.transFigure, solid_capstyle="butt"))
fig.add_artist(Line2D([1072 / W, 1.0], [1 - 216 / H, 1 - 209 / H], color="black", lw=6.5,
                      transform=fig.transFigure, solid_capstyle="butt"))

# ---------------- caption text (right column, justified between anchors) ----------------
CAPTION = [
    (22, ["projected", "perpendicular", "to", "the", "strike", "of", "the"], 1725),
    (60, ["bandpassed", "and", "downward", "continued", "between", "1.5"], 1725),
    (97, ["the", "bottom),", "and", "then", "deskewed", "and", "detrended."], 1618),
    (135, ["The", "reversal", "boundaries", "(top)", "are", "determined", "from"], 1721),
    (172, ["the", "deskewed", "profile."], None),
    (269, ["Fig.", "4.", "Average", "distances", "between", "anomalies,"], 1613),
    (307, ["corresponding", "to", "the", "category", "II", "distances,", "are", "marked"], 1694),
    (345, ["bars", "along", "the", "horizontal", "line", "through", "the", "stack."], 1741),
    (383, ["distances", "were", "determined", "by", "averaging", "the", "widths"], 1716),
    (421, ["on", "the", "individual", "profiles.", "Each", "profile", "was", "treated"], 1696),
    (459, ["Figure", "3", "in", "order", "to", "determine", "the", "zero", "crossings"], 1577),
    (496, ["bars.", "Hand-entered", "points,", "when", "the", "treatment"], 1595),
    (534, ["crossing", "(very", "infrequent),", "are", "indicated", "by", "vertical"], 1671),
    (572, ["height", "of", "the", "normal", "vertical", "bars.", "The", "profiles"], 1674),
    (610, ["only", "been", "deskewed,", "not", "downward", "continued."], 1622),
    (648, ["continued", "profiles", "were", "used", "to", "determine", "the", "widths"], 1727),
    (686, ["through", "4i", "correspond", "to", "the", "nine", "category", "I", "intervals"], 1698),
]
fig.canvas.draw()
renderer = fig.canvas.get_renderer()
for y, words, x_last in CAPTION:
    objs = []
    for wd in words:
        style = "italic" if wd == "4i" else "normal"
        objs.append(ftext(1077, y, wd, ha="left", va="baseline", family=[SERIF], fontsize=24.5,
                          style=style, color="black", path_effects=STROKE))
    widths = [o.get_window_extent(renderer).width for o in objs]
    natural = 8.5
    # index of the anchored word (the last one fully read from the page)
    n_anchor = len(words) - 1
    if x_last is not None and words[-1] in ("marked",):
        n_anchor = len(words) - 2
    gap = natural
    if x_last is not None and n_anchor > 0:
        g = (x_last - 1077 - sum(widths[:n_anchor])) / n_anchor
        gap = max(g, natural)
    x = 1077.0
    for o, wdt in zip(objs, widths):
        o.set_x(x / W)
        x += wdt + gap

# ---------------- generic stacked-profile panel ----------------
def draw_panel(spec, base, profiles, bars, hand_bars, short_bars, bar_px, extend_right,
               dashed_until=None):
    ax = make_axes(**spec)
    k, fy = spec["k"], spec["fy"]
    xmax = ax.get_xlim()[1]
    hb = bar_px * k / fy
    for i, (pts, b) in enumerate(zip(profiles, bars)):
        off = -k * base[i]
        x1 = xmax if extend_right else b[-1]
        blw = 2.4 if i == 0 else 1.8
        du = dashed_until[i] if dashed_until else None
        if du is None:
            ax.hlines(off, b[0], x1, color="black", lw=blw)
        else:
            ax.hlines(off, b[0], du, color="black", lw=1.3, linestyles=(0, (6, 5)))
            ax.hlines(off, du, x1, color="black", lw=blw)
        ax.vlines(b, off - hb, off + hb, color="black", lw=2.0)
        if hand_bars and hand_bars[i]:
            ax.vlines(hand_bars[i], off - hb * 0.9, off + hb * 0.9, color="black", lw=1.2,
                      linestyles=(0, (2, 2)))
        if short_bars and short_bars[i]:
            ax.vlines(short_bars[i], off - hb * 0.5, off + hb * 0.5, color="black", lw=1.8)
        profile(ax, pts, off)
    return ax


def top_labels(ax, spec, names, xs, zy):
    for n, x in zip(names, xs):
        ax.text(x, -spec["k"] * zy, n, ha="center", va="center", family=[SANS], fontsize=22, color="black")


def row_labels(ax, spec, base, names, x, up_px):
    k, fy = spec["k"], spec["fy"]
    for n, b in zip(names, base):
        ax.text(x, -k * b + up_px * k / fy, n, ha="left", va="center", family=[SERIF], fontsize=25,
                color="black", path_effects=STROKE)


def letter(ax, spec, s, x, zy):
    ax.text(x, -spec["k"] * zy, s, ha="center", va="center", family=["DejaVu Sans"], fontweight="bold",
            fontsize=37, color="black")


# panel a
axa = draw_panel(PANEL_A, A_BASE, [A_STACK, A1, A2, A3, A4, A5, A6], A_BARS, A_HAND_BARS, None, 25, False)
top_labels(axa, PANEL_A, A_ANOMALIES, A_ANOMALY_X, 108)
row_labels(axa, PANEL_A, A_BASE, A_ROWS, 135.8, 14)
letter(axa, PANEL_A, "a", 5.7, 217)
axa.vlines(A_AXIS_TICK, -4 * 160, -4 * 146, color="black", lw=1.5)
axa.hlines(-4 * 340, 112.5, 130.0, color="black", lw=1.6)
axa.vlines([112.5, 130.0], -4 * 340 - 30, -4 * 340 + 30, color="black", lw=1.6)
axa.text(121.2, -4 * 372, "25 km", ha="center", va="center", family=[SANS], fontsize=18)
axa.vlines(137.5, -4 * 410, -4 * 262, color="black", lw=2.2)
axa.hlines([-4 * 410, -4 * 262], 136.7, 138.3, color="black", lw=2.2)
axa.text(139.2, -4 * 335, "600nT", ha="left", va="center", family=[SANS], fontsize=18)

# panel b
axb = draw_panel(PANEL_B, B_BASE, [B_STACK, B1, B2, B3, B4, B5, B6, B7, B8], B_BARS, B_HAND_BARS, None, 23, True)
top_labels(axb, PANEL_B, B_ANOMALIES, B_ANOMALY_X, 62)
letter(axb, PANEL_B, "b", 32.8, 168)
axb.hlines(-4 * 325, 146.0, 164.4, color="black", lw=1.6, clip_on=False)
axb.vlines(146.0, -4 * 325 - 28, -4 * 325 + 28, color="black", lw=1.6)
axb.text(155.2, -4 * 352, "25 km", ha="center", va="center", family=[SANS], fontsize=18)

# panel c
axc = draw_panel(PANEL_C, C_BASE, [C_STACK, C1, C2, C3, C4, C5, C6, C7, C8], C_BARS, None, C_SHORT_BARS, 24, False)
top_labels(axc, PANEL_C, C_ANOMALIES, C_ANOMALY_X, 100)
row_labels(axc, PANEL_C, C_BASE, C_ROWS, 150.8, 13)
letter(axc, PANEL_C, "c", -0.2, 205)
axc.hlines(-2 * 333.6, 125.6, 141.9, color="black", lw=1.6)
axc.vlines([125.6, 141.9], -2 * 333.6 - 12, -2 * 333.6 + 12, color="black", lw=1.6)
axc.text(133.8, -2 * 362, "25km", ha="center", va="center", family=[SANS], fontsize=18)
axc.vlines(151.5, -2 * 384.9, -2 * 249.5, color="black", lw=2.2)
axc.hlines([-2 * 384.9, -2 * 249.5], 150.7, 152.3, color="black", lw=2.2)
axc.text(152.8, -2 * 316.5, "300nT", ha="left", va="center", family=[SANS], fontsize=18)

# panel d
axd = draw_panel(PANEL_D, D_BASE, [D_STACK, D1, D2, D3, D4, D5, D6, D7, D8, D9], D_BARS, None, D_SHORT_BARS, 23, True,
                 dashed_until=D_DASHED_UNTIL)
top_labels(axd, PANEL_D, D_ANOMALIES, D_ANOMALY_X, 72)
letter(axd, PANEL_D, "d", 28.3, 166)

for ax in ALL_AXES:
    ax.set_xlabel("")
    ax.set_ylabel("")

fig.savefig("out.png", dpi=DPI, facecolor="white")
